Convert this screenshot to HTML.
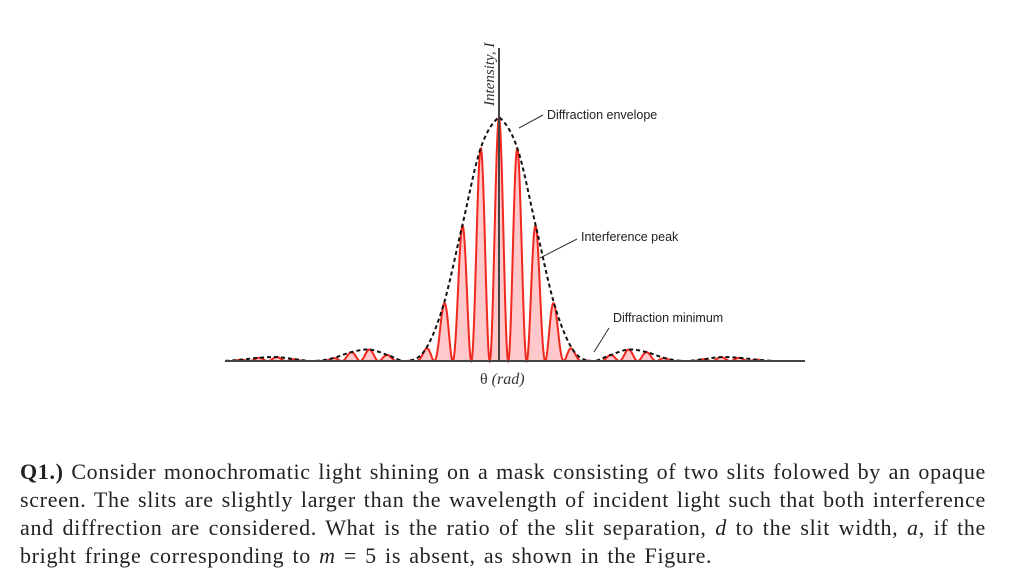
<!DOCTYPE html>
<html><head><meta charset="utf-8"><style>
html,body{margin:0;padding:0;background:#fff;width:1024px;height:583px;overflow:hidden}
#q{position:absolute;left:20px;top:458px;width:966px;font-family:"Liberation Serif",serif;font-size:22px;letter-spacing:0.68px;line-height:28px;color:#222}
#q div{white-space:nowrap;text-align:justify;text-align-last:justify}
#q div.last{text-align-last:left;word-spacing:2px}
.ann{font-family:"Liberation Sans",sans-serif;font-size:12.5px;fill:#222}
</style></head><body>
<svg id="chart" width="1024" height="440" style="position:absolute;left:0;top:0">
<g id="fill"></g>
<g id="marks"></g>
<line x1="225" y1="361" x2="805" y2="361" stroke="#444" stroke-width="2"/>
<line x1="499" y1="48" x2="499" y2="361" stroke="#444" stroke-width="2"/>
<text transform="translate(494,106) rotate(-90)" font-family="Liberation Serif,serif" font-style="italic" font-size="15" fill="#333">Intensity, I</text>
<text x="480" y="384" font-family="Liberation Serif,serif" font-size="16" fill="#333">θ <tspan font-style="italic">(rad)</tspan></text>
<line x1="519" y1="128" x2="543" y2="115" stroke="#333" stroke-width="1"/>
<text class="ann" x="547" y="119">Diffraction envelope</text>
<line x1="540" y1="258" x2="577" y2="239" stroke="#333" stroke-width="1"/>
<text class="ann" x="581" y="241">Interference peak</text>
<line x1="594" y1="352" x2="609" y2="328" stroke="#333" stroke-width="1"/>
<text class="ann" x="613" y="322">Diffraction minimum</text>
</svg>
<div id="q">
<div><b>Q1.)</b> Consider monochromatic light shining on a mask consisting of two slits folowed by an opaque</div>
<div>screen. The slits are slightly larger than the wavelength of incident light such that both interference</div>
<div>and diffrection are considered. What is the ratio of the slit separation, <i>d</i> to the slit width, <i>a</i>, if the</div>
<div class="last">bright fringe corresponding to <i>m</i> = 5 is absent, as shown in the Figure.</div>
</div>
<script>
// fringe orders (|m|) and envelope intensity at each order
const orders = [0,1,2,3,4,5,6,7,8,9,10,11,12,13,14,15,16];
const envelope = [1,0.87,0.55,0.23,0.045,0,0.024,0.047,0.036,0.011,0,0.007,0.016,0.013,0.005,0,0.003];
const mRange = [-14.8, 14.8];
const xScale = m => 499 + m*18.5;
const yScale = v => 361 - v*244;
function env(m){
  const a=Math.abs(m); const i=Math.floor(a); const t=a-i;
  const p0=envelope[Math.max(0,i-1)], p1=envelope[i], p2=envelope[Math.min(envelope.length-1,i+1)], p3=envelope[Math.min(envelope.length-1,i+2)];
  let v=0.5*((2*p1)+(-p0+p2)*t+(2*p0-5*p1+4*p2-p3)*t*t+(-p0+3*p1-3*p2+p3)*t*t*t);
  return Math.max(0,v);
}
const ns="http://www.w3.org/2000/svg";
let pe="",pi="";
for(let m=mRange[0];m<=mRange[1]+1e-9;m+=0.02){
  const e=env(m), c=Math.cos(Math.PI*m); const v=e*c*c;
  pe+=(pe?"L":"M")+xScale(m).toFixed(2)+","+yScale(e).toFixed(2);
  pi+=(pi?"L":"M")+xScale(m).toFixed(2)+","+yScale(v).toFixed(2);
}
const f=document.createElementNS(ns,"path");


f.setAttribute("d",pi+"L"+xScale(mRange[1])+",361L"+xScale(mRange[0])+",361Z");
f.setAttribute("fill","#ffc9cc");
document.getElementById("fill").appendChild(f);
const l=document.createElementNS(ns,"path");


l.setAttribute("d",pi);l.setAttribute("fill","none");l.setAttribute("stroke","#f0281e");l.setAttribute("stroke-width","2");
document.getElementById("marks").appendChild(l);
const d=document.createElementNS(ns,"path");


d.setAttribute("d",pe);d.setAttribute("fill","none");d.setAttribute("stroke","#111");d.setAttribute("stroke-width","2");d.setAttribute("stroke-dasharray","4,3");
document.getElementById("marks").appendChild(d);
</script>
</body></html>
